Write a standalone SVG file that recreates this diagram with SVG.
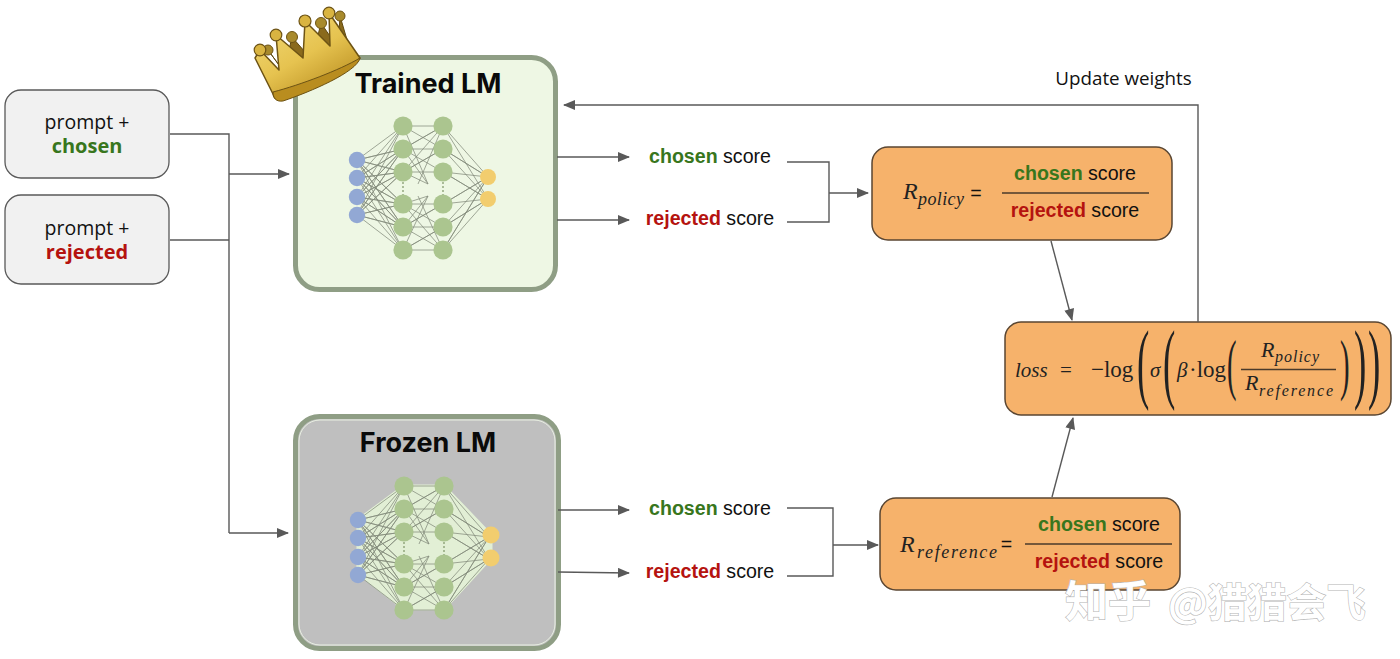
<svg xmlns="http://www.w3.org/2000/svg" width="1400" height="659" viewBox="0 0 1400 659">
<style>
.input{fill:#f1f1f1;stroke:#595959;stroke-width:1.3}
.orange{fill:#f6b26b;stroke:#5a4632;stroke-width:1.5}
.lm{stroke:#8f9e85;stroke-width:5;filter:url(#soft)}
.ui{font-family:"Open Sans","Liberation Sans",sans-serif;font-size:19.500px;text-anchor:middle;fill:#111}
.title{font-family:Inter,"Liberation Sans",sans-serif;font-size:27px;font-weight:700;text-anchor:middle;fill:#0a0a0a}
.score{font-family:"Liberation Sans",Arial,sans-serif;font-size:19.600px;text-anchor:middle;fill:#111}
.g{font-weight:700;fill:#38761d}
.r{font-weight:700;fill:#b5130f}
.m{font-family:"Liberation Serif","Times New Roman",serif;fill:#222}
.i{font-style:italic}
.conn{fill:none;stroke:#595959;stroke-width:1.4}
.frac{stroke:#4a3a2a;stroke-width:1.3}
.nl{fill:none;stroke:#838b7b;stroke-width:1;opacity:.75}
.in{fill:#92a8d4}
.hid{fill:#abc58f}
.out{fill:#f2cd6e}
.wm{font-family:"Noto Sans CJK SC",sans-serif;font-weight:700;fill:#fff;stroke:#b5b5b5;stroke-width:1.2;paint-order:stroke}
</style>
<defs>
<filter id="soft" x="-5%" y="-5%" width="110%" height="110%"><feGaussianBlur stdDeviation="0.7"/></filter>
<marker id="ah" viewBox="0 0 12 10" refX="11" refY="5" markerWidth="13" markerHeight="10" markerUnits="userSpaceOnUse" orient="auto"><path d="M0 0L12 5L0 10Z" fill="#595959"/></marker>
<linearGradient id="gold" x1="0" y1="0" x2="0.7" y2="1"><stop offset="0" stop-color="#f3dc7c"/><stop offset="0.55" stop-color="#e6c350"/><stop offset="1" stop-color="#b98d1f"/></linearGradient>
<g id="net">
<path class="nl" d="M403 126L357 160L403 149L357 160L403 172L357 160L403 204L357 160L403 227L357 160L403 250M403 126L357 178L403 149L357 178L403 172L357 178L403 204L357 178L403 227L357 178L403 250M403 126L357 197L403 149L357 197L403 172L357 197L403 204L357 197L403 227L357 197L403 250M403 126L357 215L403 149L357 215L403 172L357 215L403 204L357 215L403 227L357 215L403 250"/>
<path class="nl" d="M403 126H443L403 149H443L403 172H443M403 204H443L403 227H443L403 250H443M403 126L443 149L403 172L443 126L403 149L443 172M403 126L428 184M443 126L418 184M403 149L428 184M403 172L428 184M403 250L443 227L403 204L443 250L403 227L443 204M403 250L428 196M443 250L418 196M403 227L428 196M403 204L428 196"/>
<path class="nl" d="M443 126L488 177L443 149L488 199L443 172L488 177L443 204L488 199L443 227L488 177L443 250L488 199M443 126L488 199M443 149L488 177M443 172L488 199M443 204L488 177M443 227L488 199M443 250L488 177"/>
<path d="M403 182v14M443 182v14" stroke="#7f9468" stroke-width="1.2" stroke-dasharray="2 2" fill="none"/>
<g class="in"><circle cx="357" cy="160" r="8.200"/><circle cx="357" cy="178" r="8.200"/><circle cx="357" cy="197" r="8.200"/><circle cx="357" cy="215" r="8.200"/></g>
<g class="hid"><circle cx="403" cy="126" r="9.600"/><circle cx="403" cy="149" r="9.600"/><circle cx="403" cy="172" r="9.600"/><circle cx="403" cy="204" r="9.600"/><circle cx="403" cy="227" r="9.600"/><circle cx="403" cy="250" r="9.600"/><circle cx="443" cy="126" r="9.600"/><circle cx="443" cy="149" r="9.600"/><circle cx="443" cy="172" r="9.600"/><circle cx="443" cy="204" r="9.600"/><circle cx="443" cy="227" r="9.600"/><circle cx="443" cy="250" r="9.600"/></g>
</g>
</defs>
<rect width="1400" height="659" fill="#fff"/>

<g id="input-chosen">
<rect class="input" x="5" y="90" width="164" height="88" rx="16"/>
<text class="ui" x="87" y="129">prompt +</text>
<text class="ui g" x="87" y="152.500" style="font-size:20px">chosen</text>
</g>
<g id="input-rejected">
<rect class="input" x="5" y="195" width="164" height="89" rx="16"/>
<text class="ui" x="87" y="235">prompt +</text>
<text class="ui r" x="87" y="258.500" style="font-size:20px">rejected</text>
</g>

<g id="trained-lm">
<rect class="lm" x="295.500" y="57.500" width="260" height="232" rx="24" fill="#eef7e4"/>
<text class="title" x="428" y="93">Trained LM</text>
<use href="#net"/>
<g class="out"><circle cx="488" cy="177" r="8"/><circle cx="488" cy="199" r="8"/></g>
</g>

<g id="crown">
<path d="M268 50L284 72L292 37L312 60L321 23L338 48L340 16L350 50L290 80Z" fill="#8a6a1c" stroke="#5f4810" stroke-width="1"/>
<g fill="#a88a2c" stroke="#6d5314" stroke-width="1"><circle cx="268" cy="50" r="5"/><circle cx="292" cy="37" r="5.500"/><circle cx="321" cy="23" r="5.500"/><circle cx="340" cy="16" r="5"/></g>
<path d="M260 50L279 70L276 35L303 58L305 21L330 46L329 13L360 58C352 70 305 92 282 100C276 101 274 98 273 94C266 80 260 68 255 58Z" fill="url(#gold)" stroke="#6d5314" stroke-width="1.500" stroke-linejoin="round"/>
<path d="M273 92C300 85 340 70 360 58C357 72 310 92 283 101C276 102 273 98 273 92Z" fill="#b98d1f" stroke="#6d5314" stroke-width="1"/>
<g fill="#d9b441" stroke="#6d5314" stroke-width="1.200"><circle cx="260" cy="50" r="5.800"/><circle cx="276" cy="35" r="5.800"/><circle cx="305" cy="21" r="6"/><circle cx="329" cy="13" r="5.800"/></g>
</g>

<g id="frozen-lm">
<rect class="lm" x="295.500" y="416.500" width="263" height="232" rx="24" fill="#bfbfbf"/>
<rect x="299" y="420" width="256" height="225" rx="21" fill="none" stroke="#e9f0e2" stroke-width="1"/>
<text class="title" x="428" y="452">Frozen LM</text>
<path d="M358 520L404 486H444L491 535V558L444 609H404L358 573Z" fill="#e2efd5" stroke="#e2efd5" stroke-width="3"/>
<use href="#net" transform="translate(1 360)"/>
<g class="out"><circle cx="491" cy="535" r="8.500"/><circle cx="491" cy="558" r="8.500"/></g>
</g>

<g id="score-top">
<text class="score" x="710" y="163"><tspan class="g">chosen</tspan> score</text>
<text class="score" x="710" y="225"><tspan class="r">rejected</tspan> score</text>
</g>
<g id="score-bottom">
<text class="score" x="710" y="515"><tspan class="g">chosen</tspan> score</text>
<text class="score" x="710" y="578"><tspan class="r">rejected</tspan> score</text>
</g>

<g id="r-policy">
<rect class="orange" x="872" y="147" width="300" height="93" rx="16"/>
<text class="m i" x="903" y="199" font-size="24">R</text>
<text class="m i" x="918" y="205" font-size="18" textLength="46">policy</text>
<text class="score" x="976" y="200">=</text>
<line class="frac" x1="1002" y1="193" x2="1149" y2="193"/>
<text class="score" x="1075" y="180"><tspan class="g">chosen</tspan> score</text>
<text class="score" x="1075" y="217"><tspan class="r">rejected</tspan> score</text>
</g>

<g id="r-reference">
<rect class="orange" x="880" y="498" width="300" height="92" rx="16"/>
<text class="m i" x="900" y="552" font-size="24">R</text>
<text class="m i" x="917" y="558" font-size="18" textLength="80">reference</text>
<text class="score" x="1006.500" y="551">=</text>
<line class="frac" x1="1025" y1="544" x2="1172" y2="544"/>
<text class="score" x="1099" y="531"><tspan class="g">chosen</tspan> score</text>
<text class="score" x="1099" y="568"><tspan class="r">rejected</tspan> score</text>
</g>

<g id="loss">
<rect class="orange" x="1005" y="322" width="386" height="93" rx="16"/>
<text class="m i" x="1015" y="377" font-size="21">loss</text>
<text class="m" x="1060" y="377" font-size="21">=</text>
<text class="m" x="1091" y="377" font-size="23">−log</text>
<text class="m" transform="translate(1137 392) scale(.42 1)" font-size="88">(</text>
<text class="m i" x="1150" y="377" font-size="21">σ</text>
<text class="m" transform="translate(1163 392) scale(.42 1)" font-size="88">(</text>
<text class="m i" x="1177" y="377" font-size="21">β</text>
<text class="m" x="1189" y="377" font-size="23" textLength="37">·log</text>
<text class="m" transform="translate(1227 387) scale(.42 1)" font-size="68">(</text>
<text class="m i" x="1261" y="357" font-size="22">R</text>
<text class="m i" x="1275" y="362" font-size="16" textLength="44">policy</text>
<line class="frac" x1="1241" y1="369.500" x2="1336" y2="369.500"/>
<text class="m i" x="1245" y="390" font-size="22">R</text>
<text class="m i" x="1259" y="396" font-size="16" textLength="74">reference</text>
<text class="m" transform="translate(1340 387) scale(.42 1)" font-size="68">)</text>
<text class="m" transform="translate(1354 392) scale(.42 1)" font-size="88">)</text>
<text class="m" transform="translate(1368 392) scale(.42 1)" font-size="88">)</text>
</g>

<g id="update-weights">
<text class="ui" x="1123.500" y="85" style="font-size:18.800px">Update weights</text>
</g>

<g id="watermark">
<text class="wm" x="1065" y="617" font-size="43">知乎</text>
<text class="wm" x="1168" y="617" font-size="39.500">@猎猎会飞</text>
</g>

<g id="connectors" class="conn">
<path d="M170 134H229V533"/>
<path d="M170 240H229"/>
<path d="M229 174H289" marker-end="url(#ah)"/>
<path d="M229 533H288" marker-end="url(#ah)"/>
<path d="M557 157H629" marker-end="url(#ah)"/>
<path d="M557 220H629" marker-end="url(#ah)"/>
<path d="M787 162H829V222H787"/>
<path d="M829 193H868" marker-end="url(#ah)"/>
<path d="M558 510H629" marker-end="url(#ah)"/>
<path d="M558 572L629 573" marker-end="url(#ah)"/>
<path d="M787 508H833V576H787"/>
<path d="M833 545H878" marker-end="url(#ah)"/>
<path d="M1051 241L1072 320" marker-end="url(#ah)"/>
<path d="M1052 497L1073 418" marker-end="url(#ah)"/>
<path d="M1198 322V105H564" marker-end="url(#ah)"/>
</g>
</svg>
